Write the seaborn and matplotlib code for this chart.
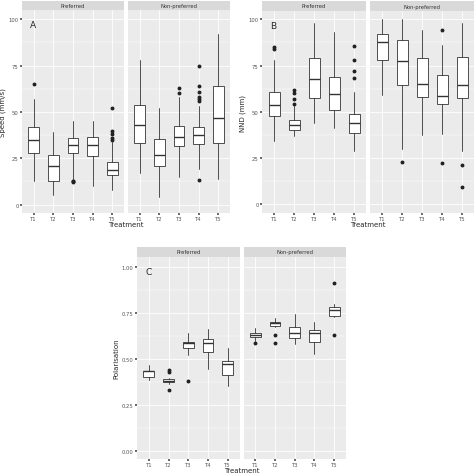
import matplotlib
matplotlib.use("Agg")
import matplotlib.pyplot as plt
import seaborn as sns

sns.set_theme(style="darkgrid", rc={"axes.facecolor": "#EBEBEB", "grid.color": "white"})
plt.rcParams['font.family'] = ['DejaVu Sans']

treatments = ["T1", "T2", "T3", "T4", "T5"]
facets = ["Preferred", "Non-preferred"]

# [whislo, q1, med, q3, whishi], fliers
speed_pref = [[13, 28, 35, 42, 57], [5, 13, 21, 27, 39], [14, 28, 32, 36, 45], [10, 26, 32, 36.5, 45], [8, 16, 18.5, 23, 34]]
speed_pref_out = [[65], [], [13, 12.5, 12], [], [35, 36, 38, 40, 52]]
speed_non = [[17, 33, 43, 54, 78], [4, 21, 27, 35.5, 52], [15, 31.5, 36.5, 42.5, 58], [19, 32.5, 37.5, 42, 53], [14, 33, 47, 64, 92]]
speed_non_out = [[], [], [60, 63], [56, 57, 58, 61, 64, 75, 13.5], []]

nnd_pref = [[34, 47.5, 53.5, 60.5, 78], [37, 40, 43, 45.5, 53], [44, 57.5, 67.5, 79, 98], [41, 51, 59.5, 69, 93], [29, 38.5, 44, 48.5, 60.5]]
nnd_pref_out = [[84, 85], [54, 57, 60, 62], [], [], [68.5, 72, 78, 85.5]]
nnd_non = [[59, 78, 87.5, 92, 100], [30, 64.5, 77.5, 89, 100], [37.5, 58, 65, 79, 94], [38, 54, 58.5, 70, 86], [29, 57.5, 64.5, 79.5, 98]]
nnd_non_out = [[], [23], [], [94, 22.5], [21, 9]]

pol_pref = [[0.387, 0.40, 0.432, 0.436, 0.468], [0.365, 0.373, 0.38, 0.388, 0.395], [0.52, 0.56, 0.586, 0.59, 0.64], [0.445, 0.535, 0.585, 0.607, 0.663], [0.35, 0.414, 0.472, 0.49, 0.558]]
pol_pref_out = [[], [0.427, 0.441, 0.333], [0.38], [], []]
pol_non = [[0.595, 0.62, 0.632, 0.643, 0.667], [0.672, 0.676, 0.694, 0.703, 0.72], [0.582, 0.613, 0.64, 0.672, 0.742], [0.526, 0.591, 0.64, 0.658, 0.70], [0.73, 0.733, 0.766, 0.78, 0.798]]
pol_non_out = [[0.585], [0.63, 0.585], [], [], [0.91, 0.63]]

W, H = 474, 477
fig = plt.figure(figsize=(W / 100, H / 100), dpi=100)

def ax_px(l, t, r, b):
    return fig.add_axes([l / W, 1 - b / H, (r - l) / W, (b - t) / H])

def panel(x0, x1, top, strip_b, bot, data, ylim, yticks, yticklabels, ylabel, letter):
    gap = 4
    mid = (x0 + x1) / 2
    spans = [(x0, mid - gap / 2), (mid + gap / 2, x1)]
    for i, ((l, r), (st, out)) in enumerate(zip(spans, data)):
        ax = ax_px(l, strip_b, r, bot)
        stats = [dict(whislo=s[0], q1=s[1], med=s[2], q3=s[3], whishi=s[4], fliers=o)
                 for s, o in zip(st, out)]
        ax.bxp(stats, positions=range(1, 6), widths=0.55, patch_artist=True,
               boxprops=dict(facecolor="white", edgecolor="#333333", linewidth=0.6),
               medianprops=dict(color="#333333", linewidth=1.0),
               whiskerprops=dict(color="#333333", linewidth=0.6),
               capprops=dict(linewidth=0),
               flierprops=dict(marker="o", markersize=1.8, markerfacecolor="#222222",
                               markeredgecolor="#222222"))
        ax.set_xlim(0.4, 5.6)
        ax.set_ylim(*ylim)
        ax.set_xticks(range(1, 6))
        ax.set_xticklabels(treatments)
        ax.set_yticks(yticks)
        ax.set_yticks([(a + b) / 2 for a, b in zip(yticks[:-1], yticks[1:])], minor=True)
        ax.grid(True, which="major", color="white", linewidth=0.6)
        ax.grid(True, which="minor", color="white", linewidth=0.3)
        ax.tick_params(axis="both", which="major", labelsize=3.8, length=1.5, pad=1,
                       colors="#555555", left=(i == 0), bottom=True)
        ax.tick_params(axis="both", which="minor", length=0)
        for sp in ax.spines.values():
            sp.set_visible(False)
        if i == 0:
            ax.set_yticklabels(yticklabels)
            ax.set_ylabel(ylabel, fontsize=5, labelpad=1.5)
            ax.text(0.08, 0.93, letter, transform=ax.transAxes, fontsize=6.5, va="center")
        else:
            ax.set_yticklabels([])
        sax = ax_px(l, top, r, strip_b)
        sax.set_facecolor("#D9D9D9")
        sax.set_xticks([]); sax.set_yticks([])
        for sp in sax.spines.values():
            sp.set_visible(False)
        sax.grid(False)
        sax.text(0.5, 0.5, facets[i], fontsize=3.8, ha="center", va="center", color="#333333")
    fig.text((x0 + x1) / 2 / W, 1 - (bot + 13) / H, "Treatment", fontsize=5, ha="center")

panel(22, 230, 2, 11, 214, [(speed_pref, speed_pref_out), (speed_non, speed_non_out)],
      (-4.5, 105), [0, 25, 50, 75, 100], ["0", "25", "50", "75", "100"], "Speed (mm/s)", "A")
panel(262, 474, 2, 12, 214, [(nnd_pref, nnd_pref_out), (nnd_non, nnd_non_out)],
      (-4.8, 104.5), [0, 25, 50, 75, 100], ["0", "25", "50", "75", "100"], "NND (mm)", "B")
panel(137, 346, 248, 258, 460, [(pol_pref, pol_pref_out), (pol_non, pol_non_out)],
      (-0.045, 1.054), [0, 0.25, 0.5, 0.75, 1.0], ["0.00", "0.25", "0.50", "0.75", "1.00"], "Polarisation", "C")

fig.savefig("out.png", dpi=100, facecolor="white")
